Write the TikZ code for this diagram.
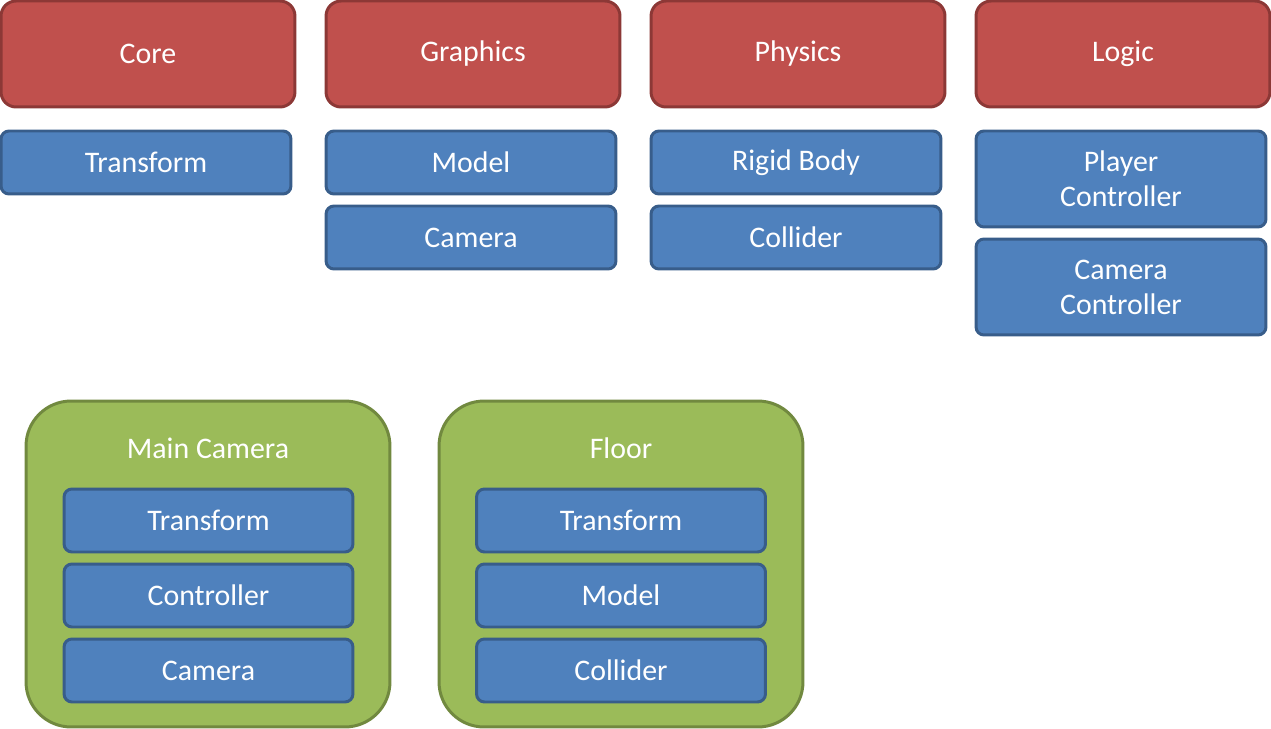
\documentclass[tikz,border=0pt]{standalone}
\usepackage{fontspec}
\setmainfont{Carlito}
\definecolor{rfill}{HTML}{C0504D}\definecolor{rdraw}{HTML}{8C3836}
\definecolor{bfill}{HTML}{4F81BD}\definecolor{bdraw}{HTML}{385D8A}
\definecolor{gfill}{HTML}{9BBB59}\definecolor{gdraw}{HTML}{71893F}
\begin{document}
\begin{tikzpicture}[x=0.02cm,y=-0.02cm,
 base/.style={line width=1.7pt,text=white,font=\fontsize{17}{20}\selectfont,align=center,inner sep=0pt},
 red/.style={base,fill=rfill,draw=rdraw,rounded corners=0.3cm,minimum width=5.88cm,minimum height=2.12cm},
 blue/.style={base,fill=bfill,draw=bdraw,rounded corners=0.16cm,minimum width=5.8cm,minimum height=1.26cm},
 iblue/.style={blue,minimum width=5.78cm},
 green/.style={base,fill=gfill,draw=gdraw,rounded corners=0.9cm,minimum width=7.28cm,minimum height=6.52cm},
 title/.style={text=white,font=\fontsize{17}{20}\selectfont,inner sep=0pt}]
\useasboundingbox (0,0) rectangle (1271,729);
\node[red] (core) at (148,54) {Core};
\node[red] (gfx) at (473,54) {Graphics};
\node[red] (phy) at (798,54) {Physics};
\node[red] (log) at (1123,54) {Logic};
\node[blue] (ctr) at (146,162.5) {Transform};
\node[blue] (gmod) at (471,162.5) {Model};
\node[blue] (gcam) at (471,237.5) {Camera};
\node[blue] (prb) at (796,162.5) {Rigid Body};
\node[blue] (pcol) at (796,237.5) {Collider};
\node[blue,minimum height=1.92cm] (lpc) at (1121,179) {Player\\Controller};
\node[blue,minimum height=1.92cm] (lcc) at (1121,287) {Camera\\Controller};
\node[green] (mc) at (208,564) {};
\node[title] (mct) at (208,448) {Main Camera};
\node[iblue] (mc1) at (208.5,520.5) {Transform};
\node[iblue] (mc2) at (208.5,595.5) {Controller};
\node[iblue] (mc3) at (208.5,670.5) {Camera};
\node[green] (fl) at (621,564) {};
\node[title] (flt) at (621,448) {Floor};
\node[iblue] (fl1) at (621,520.5) {Transform};
\node[iblue] (fl2) at (621,595.5) {Model};
\node[iblue] (fl3) at (621,670.5) {Collider};
\end{tikzpicture}
\end{document}
